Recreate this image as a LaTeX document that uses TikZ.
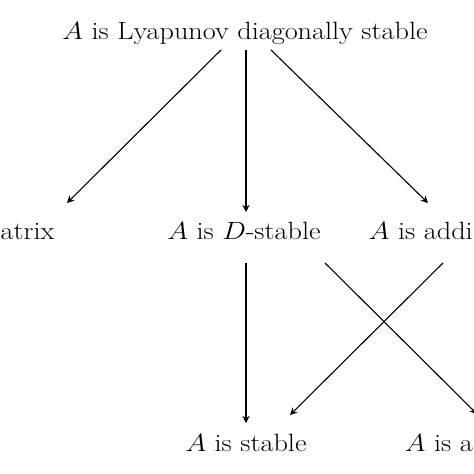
\documentclass[tikz,border=0pt]{standalone}
\usetikzlibrary{arrows.meta}
\newcommand{\wtxt}[1]{\scalebox{1.13}[1]{\fontsize{25}{29}\selectfont #1}}
\tikzset{
  lbl/.style={inner sep=0pt},
  arr/.style={line width=1.1pt, -{Stealth[length=7pt,width=7pt,inset=2pt]}}
}
\begin{document}
\begin{tikzpicture}[x=1pt,y=1pt]
\useasboundingbox (0,0) rectangle (474,474);
\node[lbl, anchor=base] (top) at (245,434) {\wtxt{$A$ is Lyapunov diagonally stable}};
\node[lbl, anchor=base west] (pm) at (0.5,234) {\wtxt{atrix}};
\node[lbl, anchor=base] (ds) at (244,234) {\wtxt{$A$ is $D$-stable}};
\node[lbl, anchor=base east] (ad) at (473,234) {\wtxt{$A$ is addi}};
\node[lbl, anchor=base] (st) at (246,22) {\wtxt{$A$ is stable}};
\node[lbl, anchor=base east] (pz) at (473,22) {\wtxt{$A$ is a}};
\coordinate (t1) at (221,424);
\coordinate (t2) at (246,424);
\coordinate (t3) at (271,424);
\coordinate (e1) at (67,271);
\coordinate (e2) at (246,262);
\coordinate (e3) at (428,271);
\coordinate (d1) at (246,211);
\coordinate (d2) at (325,211);
\coordinate (a1) at (443,211);
\coordinate (s1) at (246,51);
\coordinate (s2) at (290,59);
\coordinate (z1) at (477,60);
\draw[arr] (t1) -- (e1);
\draw[arr] (t2) -- (e2);
\draw[arr] (t3) -- (e3);
\draw[arr] (d1) -- (s1);
\draw[arr] (d2) -- (z1);
\draw[arr] (a1) -- (s2);
\end{tikzpicture}
\end{document}
